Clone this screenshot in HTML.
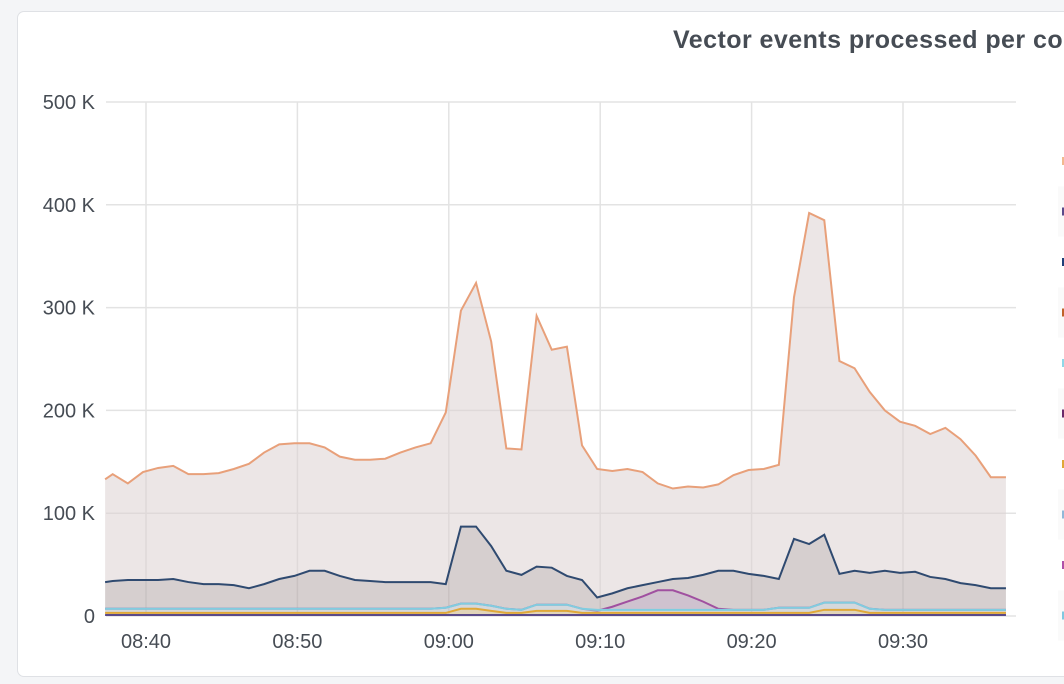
<!DOCTYPE html>
<html><head><meta charset="utf-8"><style>
body{margin:0;width:1064px;height:684px;background:#f4f5f7;overflow:hidden;font-family:"Liberation Sans",sans-serif;position:relative}
#panel{position:absolute;left:17px;top:11px;width:1047px;height:666px;background:#fff;border:1.5px solid #dfe1e5;border-right:none;border-radius:7px 0 0 7px;box-sizing:border-box}
#title{position:absolute;left:673px;top:26px;width:391px;overflow:hidden;font-size:25px;font-weight:bold;color:#464c54;white-space:nowrap;letter-spacing:0.45px}
svg{position:absolute;left:0;top:0}
</style></head><body>
<div id="panel"></div>
<div id="title">Vector events processed per component</div>
<svg id="chart" width="1064" height="684"></svg>
<script>
const times=[-2.7,-2.2];for(let k=0;k<59;k++)times.push(-1.2+k);
const yTicks=[0,100,200,300,400,500];
const yTickLabels=["0","100 K","200 K","300 K","400 K","500 K"];
const xTicks=[0,10,20,30,40,50];
const xTickLabels=["08:40","08:50","09:00","09:10","09:20","09:30"];
const baseLevel=new Array(61).fill(1);
const amberLevel=[3,3,3,3,3,3,3,3,3,3,3,3,3,3,3,3,3,3,3,3,3,3,3,3,7,7,5,3,3,5,5,5,3,3,3,3,3,3,3,3,3,3,3,3,3,3,3,3,6,6,6,3,3,3,3,3,3,3,3,3,3];
const cyanLevel=[7,7,7,7,7,7,7,7,7,7,7,7,7,7,7,7,7,7,7,7,7,7,7,8,12,12,10,7,6,11,11,11,7,6,6,6,6,6,6,6,6,6,6,6,6,8,8,8,13,13,13,7,6,6,6,6,6,6,6,6,6];
const magentaLevel=[7,7,7,7,7,7,7,7,7,7,7,7,7,7,7,7,7,7,7,7,7,7,7,8,12,12,10,7,6,11,11,11,7,5,9,14,19,25,25,20,14,7,6,6,6,8,8,8,13,13,13,7,6,6,6,6,6,6,6,6,6];
const navyLevel=[33,34,35,35,35,36,33,31,31,30,27,31,36,39,44,44,39,35,34,33,33,33,33,31,87,87,68,44,40,48,47,39,35,18,22,27,30,33,36,37,40,44,44,41,39,36,75,70,79,41,44,42,44,42,43,38,36,32,30,27,27];
const totalLevel=[133,138,129,140,144,146,138,138,139,143,148,159,167,168,168,164,155,152,152,153,159,164,168,198,297,324,267,163,162,292,259,262,166,143,141,143,140,129,124,126,125,128,137,142,143,147,310,392,385,248,241,218,200,189,185,177,183,172,156,135,135];
const legendColors=["#f2b98f","#5a4a8a","#1f3f78","#c0622a","#8fd8e8","#6a2a6a","#e0a838","#90b8d8","#b050a8","#80c8e0"];
const X=t=>146+t*15.14, Y=v=>616-v*1.028;
const svg=document.getElementById('chart'),NS="http://www.w3.org/2000/svg";
function mk(tag,a,parent){const e=document.createElementNS(NS,tag);for(const k in a)e.setAttribute(k,a[k]);(parent||svg).appendChild(e);return e;}
yTicks.forEach((v,i)=>{const l=mk('line',{x1:106,x2:1016,y1:Y(v),y2:Y(v),stroke:'#e3e3e3','stroke-width':1.5});


const t=mk('text',{x:95,y:Y(v)+7,'text-anchor':'end','font-size':20,fill:'#464c54'});t.textContent=yTickLabels[i];

});
xTicks.forEach((v,i)=>{const l=mk('line',{x1:X(v),x2:X(v),y1:Y(500),y2:616,stroke:'#e3e3e3','stroke-width':1.5});


const t=mk('text',{x:X(v),y:648,'text-anchor':'middle','font-size':20,fill:'#464c54'});t.textContent=xTickLabels[i];

});
function area(top,bot,fill,stroke,name){
 let d='M'+times.map((t,i)=>X(t)+','+Y(top[i])).join('L');
 for(let i=times.length-1;i>=0;i--)d+='L'+X(times[i])+','+Y(bot?bot[i]:0);
 const a=mk('path',{d:d+'Z',fill:fill,'fill-opacity':0.55});
 
 
 const l=mk('polyline',{points:times.map((t,i)=>X(t)+','+Y(top[i])).join(' '),fill:'none',stroke:stroke,'stroke-width':2});
 
 }
area(totalLevel,navyLevel,'#ddd2d2','#e8a07a','total');
area(navyLevel,magentaLevel,'#b5a8a8','#2f4a70','navy-series');
area(magentaLevel,cyanLevel,'#a890a8','#a050a0','magenta-series');
area(cyanLevel,amberLevel,'#b0b8c0','#80cde0','cyan-series');
area(amberLevel,baseLevel,'#c8b080','#e0a838','amber-series');
area(baseLevel,null,'#7060a0','#5a4a8a','purple-series');
legendColors.forEach((c,i)=>{const y=161+i*50.5;
 if(i%2==1){const b=mk('rect',{x:1058,y:y-25,width:6,height:50,fill:'#fafafa'});}
 const r=mk('rect',{x:1062,y:y-4,width:2,height:8,fill:c});
 
 });
</script>
</body></html>
